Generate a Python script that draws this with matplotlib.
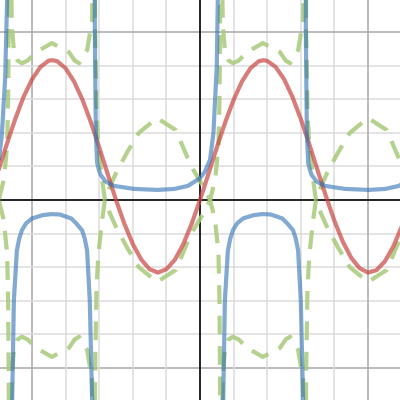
import numpy as np
import matplotlib.pyplot as plt

nan = np.nan

# red curve
red_x = [-6, -5.75, -5.5, -5.25, -5, -4.75, -4.5, -4.39, -4.25, -4, -3.75, -3.5, -3.25, -3, -2.75, -2.5,
         -2.25, -2, -1.75, -1.5, -1.25, -1, -0.75, -0.5, -0.25, 0, 0.25, 0.5, 0.75, 1, 1.25, 1.5,
         1.75, 1.89, 2, 2.25, 2.5, 2.75, 3, 3.25, 3.5, 3.75, 4, 4.25, 4.5, 4.75, 5, 5.25, 5.5, 5.75, 6]
red_y = [0.88, 1.66, 2.41, 3.07, 3.59, 3.96, 4.15, 4.16, 4.13, 3.92, 3.53, 2.99, 2.32, 1.57, 0.78, 0.0,
         -0.71, -1.31, -1.77, -2.06, -2.16, -2.06, -1.78, -1.32, -0.71, 0, 0.77, 1.56, 2.31, 2.98, 3.53, 3.92,
         4.13, 4.16, 4.14, 3.96, 3.60, 3.07, 2.41, 1.67, 0.88, 0.11, -0.62, -1.24, -1.72, -2.03, -2.16, -2.09, -1.83, -1.39, -0.80]

# blue curve (nan = break at asymptote)
blue_x = [-6.0, -5.9, -5.8, -5.74, -5.69, nan,
          -5.63, -5.61, -5.59, -5.54, -5.45, -5.38, -5.30, -5.18, -5.0, -4.68, -4.43, -4.18, -3.83, -3.68, -3.51, -3.43, -3.36, -3.28, -3.21, -3.18, -3.17, nan,
          -3.15, -3.13, -3.10, -3.06, -3.01, -2.96, -2.81, -2.56, -1.96, -1.26, -0.76, -0.36, 0, 0.15, 0.3, 0.4, 0.5, 0.56, 0.61, nan,
          0.65, 0.67, 0.69, 0.74, 0.83, 0.9, 0.98, 1.1, 1.28, 1.6, 1.85, 2.1, 2.45, 2.6, 2.77, 2.85, 2.92, 3.0, 3.07, 3.1, 3.11, nan,
          3.13, 3.15, 3.18, 3.22, 3.27, 3.32, 3.47, 3.72, 4.32, 5.02, 5.52, 5.92, 6.0]
blue_y = [1.1, 1.9, 3.6, 6, 15, nan,
          -15, -8, -6, -3, -1.5, -1.15, -0.9, -0.7, -0.55, -0.45, -0.42, -0.43, -0.55, -0.7, -0.9, -1.15, -1.5, -3, -6, -10, -15, nan,
          15, 5, 2, 1.1, 0.9, 0.75, 0.55, 0.42, 0.33, 0.3, 0.33, 0.42, 0.65, 0.85, 1.2, 2.0, 4, 8, 20, nan,
          -15, -8, -6, -3, -1.5, -1.15, -0.9, -0.7, -0.55, -0.45, -0.42, -0.43, -0.55, -0.7, -0.9, -1.15, -1.5, -3, -6, -10, -15, nan,
          15, 5, 2, 1.1, 0.9, 0.75, 0.55, 0.42, 0.33, 0.3, 0.33, 0.42, 0.47]

# green dashed curve: drawn as +/- of these magnitudes
green_x = [-6.19, -5.99, -5.84, -5.79, -5.74, -5.71, -5.69, -5.67, nan,
           -5.65, -5.63, -5.60, -5.54, -5.43, -5.30, -5.13, -4.88, -4.41, -3.90, -3.73, -3.60, -3.36, -3.21, -3.17, nan,
           -3.15, -3.12, -3.08, -3.03, -2.98, -2.90, -2.83, -2.68, -2.50, -2.18, -1.82, -1.28, -0.72, -0.38, -0.2,
           0.1, 0.3, 0.45, 0.5, 0.55, 0.58, 0.6, 0.61, nan,
           0.63, 0.65, 0.68, 0.74, 0.85, 0.98, 1.15, 1.4, 1.87, 2.38, 2.55, 2.68, 2.92, 3.07, 3.11, nan,
           3.13, 3.16, 3.2, 3.25, 3.3, 3.38, 3.45, 3.6, 3.78, 4.1, 4.46, 5.0, 5.56, 5.9, 6.08]
green_y = [0.4, 0.0, 0.6, 1.1, 1.6, 3, 6, 14, nan,
           14, 7, 5.2, 4.46, 4.15, 4.07, 4.15, 4.4, 4.67, 4.4, 4.15, 4.07, 4.46, 5.36, 12, nan,
           12, 5, 2.6, 1.7, 1.2, 0.5, 0.0, 0.4, 0.8, 1.4, 2.0, 2.44, 2.08, 1.28, 0.9,
           0.4, 0.0, 0.6, 1.1, 1.6, 3, 6, 14, nan,
           14, 7, 5.2, 4.46, 4.15, 4.07, 4.15, 4.4, 4.67, 4.4, 4.15, 4.07, 4.46, 5.36, 12, nan,
           12, 5, 2.6, 1.7, 1.2, 0.5, 0.0, 0.4, 0.8, 1.4, 2.0, 2.44, 2.08, 1.28, 0.9]

fig = plt.figure(figsize=(4, 4), dpi=100)
ax = fig.add_axes([0, 0, 1, 1])
lim = 200 / 33.6
ax.set_xlim(-lim, lim)
ax.set_ylim(-lim, lim)

for v in range(-5, 6):
    if v == 0:
        continue
    c = '#a8a8a8' if abs(v) == 5 else '#dcdcdc'
    ax.axvline(v, color=c, lw=1.1, zorder=0)
    ax.axhline(v, color=c, lw=1.1, zorder=0)
ax.axvline(0, color='#222222', lw=1.4, zorder=1)
ax.axhline(0, color='#222222', lw=1.4, zorder=1)

gx = np.array(green_x)
gy = np.array(green_y)
ax.plot(gx, gy, color='#a8c97a', lw=3, ls=(0, (4.5, 2.8)), alpha=0.85, zorder=2)
ax.plot(gx, -gy, color='#a8c97a', lw=3, ls=(0, (4.5, 2.8)), alpha=0.85, zorder=2)
ax.plot(red_x, red_y, color='#c74440', lw=3, alpha=0.7, zorder=3, solid_joinstyle='round')
ax.plot(blue_x, blue_y, color='#2d70b3', lw=3, alpha=0.6, zorder=4, solid_joinstyle='round')

ax.set_xticks([])
ax.set_yticks([])
for s in ax.spines.values():
    s.set_visible(False)

fig.savefig('out.png', dpi=100)
